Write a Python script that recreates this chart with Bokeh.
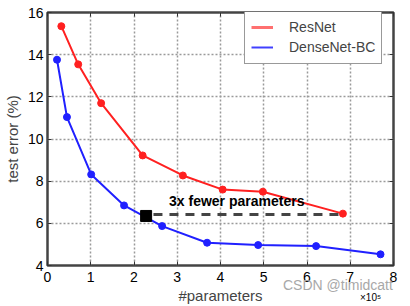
from bokeh.plotting import figure
from bokeh.models import Range1d, LinearAxis, Label, Legend, LegendItem, FixedTicker, Div
from bokeh.layouts import column
from bokeh.embed import file_html
from bokeh.resources import INLINE

# data (x in units of 1e5 parameters, y = test error %)
resnet_params = [0.32, 0.71, 1.24, 2.20, 3.13, 4.05, 4.98, 6.83]
resnet_error = [15.35, 13.54, 11.70, 9.22, 8.27, 7.60, 7.50, 6.46]
densenet_params = [0.22, 0.45, 1.01, 1.77, 2.65, 3.69, 4.87, 6.21, 7.70]
densenet_error = [13.76, 11.04, 8.32, 6.85, 5.87, 5.08, 4.97, 4.92, 4.53]
marker_x = [2.28]
marker_y = [6.35]
dash_x = [2.45, 6.8]
dash_y = [6.42, 6.42]
x_ticks = [0, 1, 2, 3, 4, 5, 6, 7, 8]
y_ticks = [4, 6, 8, 10, 12, 14, 16]
watermark = "CSDN @timidcatt"
x_multiplier = "×10⁵"

FONT = "Liberation Sans"

p = figure(width=410, height=306, output_backend="svg", toolbar_location=None,
           x_range=Range1d(0, 8), y_range=Range1d(4, 16),
           min_border_left=46, min_border_right=17, min_border_top=12, min_border_bottom=41)
p.background_fill_color = "white"
p.border_fill_color = "white"
p.outline_line_color = "#444444"
p.outline_line_width = 2.5

for ax in (p.xaxis[0], p.yaxis[0]):
    ax.axis_line_color = None
    ax.major_tick_in = 4
    ax.major_tick_out = 0
    ax.minor_tick_line_color = None
    ax.major_tick_line_color = "#333333"
    ax.major_label_text_font = FONT
    ax.major_label_text_font_size = "14px"
    ax.major_label_text_color = "black"
    ax.axis_label_text_font = FONT
    ax.axis_label_text_font_style = "normal"
    ax.axis_label_text_font_size = "15px"
p.xaxis[0].ticker = FixedTicker(ticks=x_ticks)
p.yaxis[0].ticker = FixedTicker(ticks=y_ticks)
p.xaxis[0].axis_label = "#parameters"
p.yaxis[0].axis_label = "test error (%)"
p.xaxis[0].major_label_standoff = 6
p.yaxis[0].major_label_standoff = 4
p.xaxis[0].axis_label_standoff = 2
p.yaxis[0].axis_label_standoff = 4

top_ax = LinearAxis(ticker=FixedTicker(ticks=x_ticks),
                    major_label_overrides={t: "" for t in x_ticks},
                    axis_line_color=None, major_tick_in=4, major_tick_out=0,
                    minor_tick_line_color=None, major_tick_line_color="#333333")
right_ax = LinearAxis(ticker=FixedTicker(ticks=y_ticks),
                      major_label_overrides={t: "" for t in y_ticks},
                      axis_line_color=None, major_tick_in=4, major_tick_out=0,
                      minor_tick_line_color=None, major_tick_line_color="#333333")
p.add_layout(top_ax, "above")
p.add_layout(right_ax, "right")

p.grid.grid_line_color = "#9a9a9a"
p.grid.grid_line_dash = "2 2"
p.grid.grid_line_width = 1.5
p.xgrid.ticker = FixedTicker(ticks=x_ticks)
p.ygrid.ticker = FixedTicker(ticks=y_ticks)

red = "#ff2020"
blue = "#2020ff"
p.line(resnet_params, resnet_error, line_color=red, line_width=2)
p.scatter(resnet_params, resnet_error, size=7, color=red)
p.line(densenet_params, densenet_error, line_color=blue, line_width=2)
p.scatter(densenet_params, densenet_error, size=7, color=blue)

p.line(dash_x, dash_y, line_color="#444444", line_width=3, line_dash="9 7")
p.scatter(marker_x, marker_y, marker="square", size=11, color="black")

p.add_layout(Label(x=2.81, y=7.08, text="3x fewer parameters", text_font=FONT,
                   text_font_style="bold", text_font_size="14px", text_baseline="middle",
                   text_color="black"))

# legend (swatches drawn by off-range renderers)
lr = p.line([-10, -9], [0, 0], line_color="#ff7070", line_width=3)
lb = p.line([-10, -9], [0, 0], line_color="#4040ff", line_width=2)
legend = Legend(items=[LegendItem(label="ResNet", renderers=[lr]),
                       LegendItem(label="DenseNet-BC", renderers=[lb])],
                location=(197, 201), label_text_font=FONT, label_text_font_size="14px",
                glyph_width=22, label_standoff=16, spacing=0, padding=6, margin=0,
                border_line_color="#333333", border_line_width=1.5,
                background_fill_alpha=1.0, label_height=20, glyph_height=20)
p.add_layout(legend)

html = (
    '<div style="position:relative;width:410px;height:30px;font-family:\'Liberation Sans\';">'
    f'<span style="position:absolute;left:283px;top:2px;font-size:14px;line-height:14px;'
    f'color:#a8a8a8;white-space:nowrap;">{watermark}</span>'
    f'<span style="position:absolute;left:360px;top:17px;font-size:10px;line-height:10px;'
    f'color:black;white-space:nowrap;">{x_multiplier}</span>'
    '</div>'
)
overlay = Div(text=html, width=410, height=30, margin=(-30, 0, 0, 0))

layout = column(p, overlay, spacing=0)
open("out.html", "w").write(file_html(layout, INLINE))
